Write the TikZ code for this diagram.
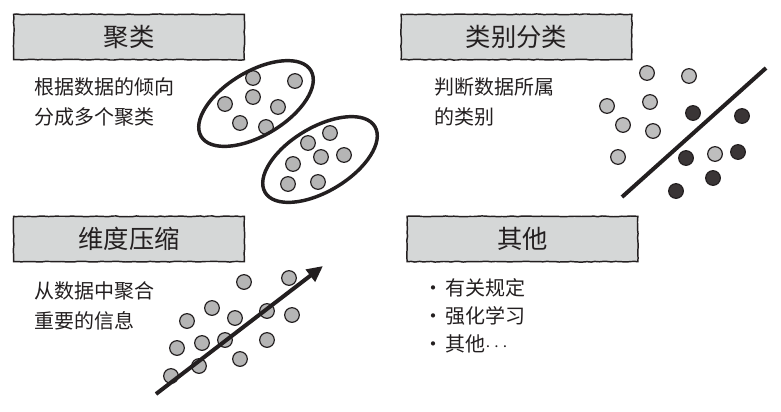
\documentclass[tikz,border=0pt]{standalone}
\usepackage{fontspec}
\setmainfont{Noto Sans CJK SC}
\usetikzlibrary{arrows.meta,decorations.pathmorphing,shapes.geometric}
\definecolor{ink}{HTML}{231F20}
\definecolor{boxgray}{HTML}{D5D7D7}
\definecolor{dotgray}{HTML}{B5B5B5}
\definecolor{dotlight}{HTML}{BEBEBE}
\definecolor{dotdark}{HTML}{3A3536}
\newcommand{\bul}{\makebox[18pt][c]{·}}
\tikzset{
  titlebox/.style={draw=ink, fill=boxgray, line width=1.1pt, minimum width=173pt, minimum height=34pt,
    inner sep=0pt, decorate, decoration={random steps, segment length=3pt, amplitude=0.3pt},
    font=\fontsize{19}{22}\selectfont, text=ink},
  bodytext/.style={anchor=west, align=left, inner sep=0pt, text=ink, font=\fontsize{15}{23}\selectfont},
  dot/.style={circle, draw=ink, line width=0.9pt, fill=dotgray, minimum size=11pt, inner sep=0pt},
  ldot/.style={dot, fill=dotlight},
  ddot/.style={dot, fill=dotdark},
  ring/.style={ellipse, draw=ink, line width=2.6pt, rotate=31, minimum width=96pt, minimum height=48pt, inner sep=0pt},
  thick line/.style={draw=ink, line width=3pt},
}
\begin{document}
\begin{tikzpicture}[x=0.75pt,y=-0.75pt]
\useasboundingbox (0,0) rectangle (781,411);
\pgfmathsetseed{7}
% titles
\node[titlebox] (t1) at (129,37) {聚类};
\node[titlebox] (t2) at (516.5,37) {类别分类};
\node[titlebox] (t3) at (129,239) {维度压缩};
\node[titlebox] (t4) at (522.5,239) {其他};
% body texts
\node[bodytext] (b1) at (34,102) {根据数据的倾向\\分成多个聚类};
\node[bodytext] (b2) at (434,102) {判断数据所属\\的类别};
\node[bodytext] (b3) at (34,306) {从数据中聚合\\重要的信息};
\node[bodytext, font=\fontsize{15}{21}\selectfont] (b4) at (421,316) {\bul 有关规定\\\bul 强化学习\\\bul 其他$\cdots$};
% clustering
\foreach \n/\x/\y in {a1/253/78, a2/295/81, a3/225/104, a4/253/97, a5/278/107, a6/240/123, a7/266/127,
  c1/330/133, c2/308/143, c3/321/157, c4/344/155, c5/293/164, c6/318/182, c7/288/184}
  \node[dot] (\n) at (\x,\y) {};
\node[ring] (e1) at (256,103.5) {};
\node[ring] (e2) at (320,159.5) {};
% classification
\foreach \n/\x/\y in {l1/647/73, l2/689/76, l3/607/106, l4/650/102, l5/623/125, l6/653/131, l7/618/157, l8/715/154}
  \node[ldot] (\n) at (\x,\y) {};
\foreach \n/\x/\y in {d1/693/113, d2/742/116, d3/686/158, d4/738/152, d5/713/178, d6/676/191}
  \node[ddot] (\n) at (\x,\y) {};
\coordinate (s1) at (622,197);
\coordinate (s2) at (766,68);
\draw[thick line] (s1) -- (s2);
% dimensionality reduction
\foreach \n/\x/\y in {r1/244/282, r2/289/278, r3/212/308, r4/235/318, r5/267/311, r6/292/315, r7/187/321,
  r8/202/343, r9/225/340, r10/267/340, r11/177/348, r12/240/359, r13/199/366, r14/171/376}
  \node[dot] (\n) at (\x,\y) {};
\coordinate (p1) at (156,394);
\coordinate (p2) at (323,266);
\draw[thick line, -{Triangle[length=12pt,width=11pt]}] (p1) -- (p2);
\end{tikzpicture}
\end{document}
